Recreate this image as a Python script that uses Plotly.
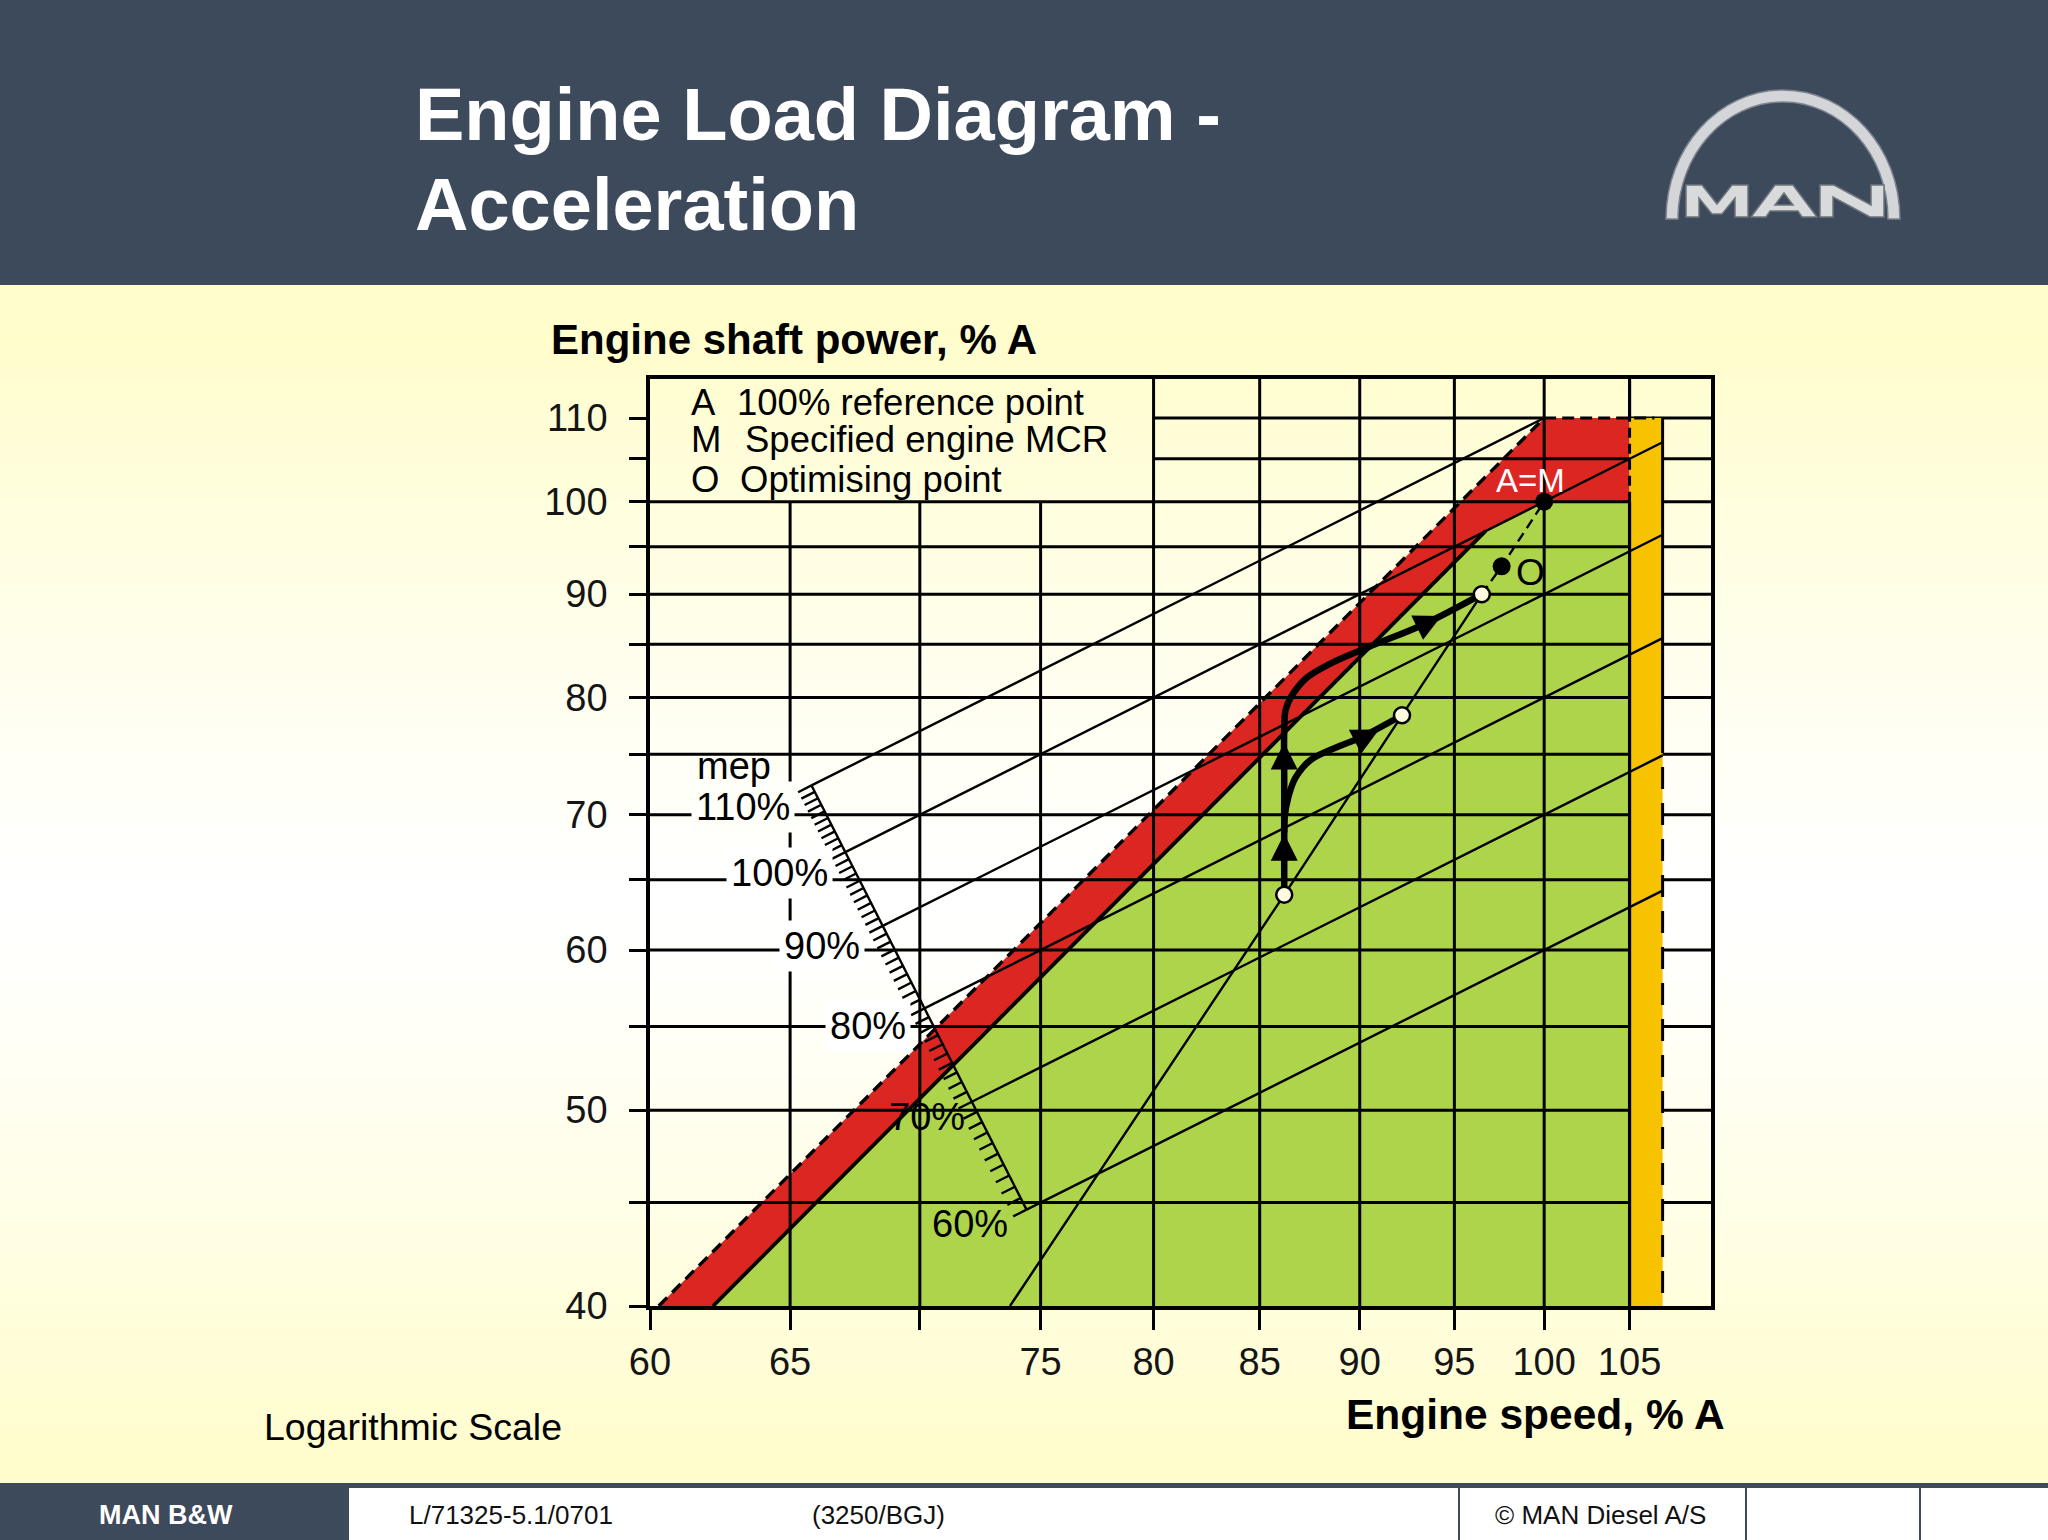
import math
import plotly.graph_objects as go

# ---------------- canvas / plot geometry (pixels) ----------------
W, H = 2048, 1540
L, R, T, B = 650, 1711, 379, 1306

# ---------------- data ----------------
X_RANGE = [60, 110]          # engine speed, % A
Y_RANGE = [40, 115]          # engine shaft power, % A
x_tick_vals = [60, 65, 70, 75, 80, 85, 90, 95, 100, 105]
x_tick_text = ['60', '65', '', '75', '80', '85', '90', '95', '100', '105']
y_tick_vals = [40, 45, 50, 55, 60, 65, 70, 75, 80, 85, 90, 95, 100, 105, 110]
y_tick_text = ['40', '', '50', '', '60', '', '70', '', '80', '', '90', '', '100', '', '110']

grid_speed = [65, 70, 75, 80, 85, 90, 95, 100]
grid_power = [45, 50, 55, 60, 65, 70, 75, 80, 85, 90, 95, 100, 105, 110]

# operating areas
green_speed = [62.2, 96.7, 100, 105, 105]
green_power = [40, 96.7, 100, 100, 40]
red_speed = [60.3, 100, 105, 105, 100, 96.7, 62.2]
red_power = [40, 110, 110, 100, 100, 96.7, 40]
yellow_speed = [105, 107, 107, 105]
yellow_power = [40, 40, 110, 110]

# limit lines
limit_solid_speed = [62.2, 96.7]
limit_solid_power = [40, 96.7]
limit_dash_speed = [60.3, 100]
limit_dash_power = [40, 110]
top_dash_speed = [100, 106.5]
top_dash_power = [110, 110]

# mep scale
mep_scale_speed = [65.8, 74.4]        # ruler ends
mep_scale_mep = [110, 60]             # mep % at ruler ends
mep_levels = [110, 100, 90, 80, 70, 60]
mep_line_end_speed = [100, 107, 107, 107, 107, 107]
mep_tick_levels = list(range(60, 111))

# propeller curve through A=M
prop_speed = [73.7, 86.2, 92.2, 96.5]
prop_power = [40, 63.9, 78.4, 90.0]
prop_dash_speed = [96.5, 97.6, 100]
prop_dash_power = [90.0, 92.9, 100]

# points
open_speed = [86.2, 92.2, 96.5]
open_power = [63.9, 78.4, 90.0]
solid_speed = [97.6, 100]
solid_power = [92.9, 100]

# acceleration paths
accel1_speed = [86.2, 86.2, 86.2, 86.2, 86.27, 86.55, 87.3, 88.45, 90.4, 93.4, 96.5]
accel1_power = [63.9, 68.0, 73.0, 77.0, 78.9, 80.1, 81.8, 83.1, 84.7, 87.0, 90.0]
accel2_speed = [86.2, 86.22, 86.4, 86.75, 87.5, 88.97, 90.0, 92.2]
accel2_power = [68.6, 69.8, 71.4, 73.0, 74.5, 75.7, 76.4, 78.4]
arrow_speed = [86.2, 86.2, 91.0, 94.3]
arrow_power = [68.5, 76.0, 77.15, 87.8]
arrow_angle = [0, 0, 63, 64]

# ---------------- colours ----------------
HEAD = '#3D4A5B'
GREEN = '#ADD44A'
RED = '#DC2622'
YELLOW = '#F7C200'
FONT = 'Liberation Sans, Arial, sans-serif'


def px(x):
    return (x - L) / (R - L)


def py(y):
    return (B - y) / (B - T)


lx = math.log10
KX = (R - L) / (lx(X_RANGE[1]) - lx(X_RANGE[0]))
KY = (B - T) / (lx(Y_RANGE[1]) - lx(Y_RANGE[0]))

fig = go.Figure()


def line(xs, ys, width, color='black', dash=None, shape='linear'):
    fig.add_trace(go.Scatter(x=xs, y=ys, mode='lines', hoverinfo='skip',
                             line=dict(color=color, width=width, dash=dash, shape=shape)))


def fill(xs, ys, color):
    fig.add_trace(go.Scatter(x=xs, y=ys, mode='lines', fill='toself', fillcolor=color,
                             line=dict(width=0, color=color), hoverinfo='skip'))


# areas
fill(green_speed, green_power, GREEN)
fill(red_speed, red_power, RED)

# grid
gx, gy = [], []
for p in grid_power:
    if p == 110:
        segs = [(80, 100), (105, 110)]
    elif p == 105:
        segs = [(80, 110)]
    else:
        segs = [(60, 110)]
    for a, b in segs:
        gx += [a, b, None]
        gy += [p, p, None]
for s in grid_speed:
    top = 100 if s < 80 else 115
    gx += [s, s, None]
    gy += [40, top, None]
line(gx, gy, 3.0)

# yellow band and its edges
fill(yellow_speed, yellow_power, YELLOW)
line([105, 105, None, 105, 105], [40, 100, None, 110, 115], 3.2)
line([105, 105], [100, 110], 3.0, dash='10px,6px')
line([107, 107], [110, 77], 3.0)
line([107, 107], [77, 40], 3.0, dash='22px,14px')
line(top_dash_speed, top_dash_power, 3.0, dash='12px,6px')

# mep scale
u1, u2 = lx(mep_scale_speed[0]), lx(mep_scale_speed[1])
lm1, lm2 = math.log(mep_scale_mep[0]), math.log(mep_scale_mep[1])


def ruler_point(m):
    t = (lm1 - math.log(m)) / (lm1 - lm2)
    n = 10 ** (u1 + t * (u2 - u1))
    return n, m / 100 * n


mx, my = [], []
for m, ne in zip(mep_levels, mep_line_end_speed):
    n0, p0 = ruler_point(m)
    mx += [n0, ne, None]
    my += [p0, m / 100 * ne, None]
line(mx, my, 2.4)

ra = ruler_point(mep_scale_mep[0])
rb = ruler_point(mep_scale_mep[1])
dxp = KX * (lx(rb[0]) - lx(ra[0]))
dyp = -KY * (lx(rb[1]) - lx(ra[1]))
nrm = math.hypot(dxp, dyp)
dxp, dyp = dxp / nrm, dyp / nrm
tx, ty = [ra[0], rb[0], None], [ra[1], rb[1], None]
for m in mep_tick_levels:
    n0, p0 = ruler_point(m)
    ln_ = 15
    ex, ey = -dyp * ln_, dxp * ln_
    tx += [n0, 10 ** (lx(n0) + ex / KX), None]
    ty += [p0, 10 ** (lx(p0) - ey / KY), None]
line(tx, ty, 2.4)

# propeller curve
line(prop_speed, prop_power, 2.4)
line(prop_dash_speed, prop_dash_power, 2.4, dash='10px,6px')

# limit lines
line(limit_solid_speed, limit_solid_power, 3.8)
line(limit_dash_speed, limit_dash_power, 3.4, dash='12px,7px')

# acceleration paths
line(accel1_speed, accel1_power, 6.5, shape='spline')
line(accel2_speed, accel2_power, 6.5, shape='spline')
fig.add_trace(go.Scatter(x=arrow_speed, y=arrow_power, mode='markers', hoverinfo='skip',
                         marker=dict(symbol='arrow-up', size=27, angle=arrow_angle,
                                     color='black', line=dict(width=0))))

# points
fig.add_trace(go.Scatter(x=open_speed, y=open_power, mode='markers', hoverinfo='skip',
                         marker=dict(symbol='circle', size=16, color='#FFFBE0',
                                     line=dict(color='black', width=2.5))))
fig.add_trace(go.Scatter(x=solid_speed, y=solid_power, mode='markers', hoverinfo='skip',
                         marker=dict(symbol='circle', size=18, color='black')))

# ---------------- annotations ----------------
ann = []


def txt(x, y, text, size, color='black', xanchor='center', yanchor='middle', ref='paper',
        bold=False, bg=None, family=FONT, pad=1):
    d = dict(text=('<b>%s</b>' % text) if bold else text, showarrow=False,
             font=dict(size=size, color=color, family=family),
             xanchor=xanchor, yanchor=yanchor)
    if ref == 'paper':
        d.update(xref='paper', yref='paper', x=px(x), y=py(y))
    else:
        d.update(xref='x', yref='y', x=lx(x), y=lx(y))
    if bg:
        d.update(bgcolor=bg, borderpad=pad)
    ann.append(d)


# title
txt(413, 114, 'Engine Load Diagram -', 74, 'white', xanchor='left', bold=True)
txt(413, 204, 'Acceleration', 74, 'white', xanchor='left', bold=True)
# axis titles
txt(549, 340, 'Engine shaft power, % A', 42, xanchor='left', bold=True)
txt(1727, 1414, 'Engine speed, % A', 42.5, xanchor='right', bold=True)
txt(413, 1427, 'Logarithmic Scale', 37.5)
# legend text
txt(61.36, 112.0, 'A', 36.5, xanchor='left', ref='data')
txt(61.36, 107.3, 'M', 36.5, xanchor='left', ref='data')
txt(61.36, 102.6, 'O', 36.5, xanchor='left', ref='data')
txt(62.98, 112.0, '100% reference point', 36.5, xanchor='left', ref='data')
txt(63.27, 107.3, 'Specified engine MCR', 36.5, xanchor='left', ref='data')
txt(63.09, 102.6, 'Optimising point', 36.5, xanchor='left', ref='data')
# mep labels
txt(65.2, 70.6, '110%', 38, xanchor='right', ref='data', bg='#FFFFFA', pad=4)
txt(64.36, 74.0, 'mep', 38, xanchor='right', ref='data')
txt(66.6, 65.5, '100%', 38, xanchor='right', ref='data', bg='#FFFFFF', pad=4)
txt(67.85, 60.3, '90%', 38, xanchor='right', ref='data', bg='#FFFFFF', pad=4)
txt(69.65, 55.0, '80%', 38, xanchor='right', ref='data', bg='#FFFFFF', pad=4)
txt(71.9, 49.6, '70%', 38, xanchor='right', ref='data')
txt(73.7, 43.9, '60%', 38, xanchor='right', ref='data')
# point labels
txt(99.2, 102.5, 'A=M', 33, 'white', ref='data')
txt(99.25, 92.3, 'O', 37, ref='data')
# footer text
txt(166, 1515, 'MAN B&amp;W', 27, 'white', bold=True)
txt(407, 1515, 'L/71325-5.1/0701', 26, '#111111', xanchor='left')
txt(810, 1515, '(3250/BGJ)', 26, '#111111', xanchor='left')
txt(1493, 1515, '© MAN Diesel A/S', 26, '#111111', xanchor='left')

# ---------------- shapes (background, header, footer, logo) ----------------
shapes = []
yl = (255, 253, 204)
y0 = 284
step = 12
while y0 < 1486:
    yc = y0 + step / 2
    f = min(1.0, abs(yc - 900) / 560.0) ** 1.2
    col = 'rgb(%d,%d,%d)' % tuple(round(255 + (c - 255) * f) for c in yl)
    shapes.append(dict(type='rect', xref='paper', yref='paper', layer='below',
                       x0=px(0), x1=px(W), y0=py(y0), y1=py(min(y0 + step + 1, 1486)),
                       fillcolor=col, line=dict(width=0)))
    y0 += step
shapes.append(dict(type='rect', xref='paper', yref='paper', layer='below',
                   x0=px(0), x1=px(W), y0=py(0), y1=py(285), fillcolor=HEAD, line=dict(width=0)))
# footer
shapes.append(dict(type='rect', xref='paper', yref='paper', layer='below',
                   x0=px(0), x1=px(W), y0=py(1486), y1=py(H), fillcolor='white', line=dict(width=0)))
shapes.append(dict(type='rect', xref='paper', yref='paper', layer='below',
                   x0=px(0), x1=px(349), y0=py(1486), y1=py(H), fillcolor=HEAD, line=dict(width=0)))
shapes.append(dict(type='rect', xref='paper', yref='paper', layer='below',
                   x0=px(0), x1=px(W), y0=py(1483), y1=py(1488), fillcolor=HEAD, line=dict(width=0)))
for sx in (1459, 1746, 1920):
    shapes.append(dict(type='line', xref='paper', yref='paper', layer='below',
                       x0=px(sx), x1=px(sx), y0=py(1486), y1=py(H), line=dict(color=HEAD, width=2)))


def P(p):
    return '%.5f,%.5f' % (px(p[0]), py(p[1]))


# logo arc
cx, cy = 1783, 219
k = 0.5523


def arc_pts(rx, ry):
    return [(cx - rx, cy), (cx - rx, cy - k * ry), (cx - k * rx, cy - ry), (cx, cy - ry),
            (cx + k * rx, cy - ry), (cx + rx, cy - k * ry), (cx + rx, cy)]


o = arc_pts(117, 129)
i = arc_pts(105, 117)[::-1]
path = ('M' + P(o[0]) + ' C' + P(o[1]) + ' ' + P(o[2]) + ' ' + P(o[3]) +
        ' C' + P(o[4]) + ' ' + P(o[5]) + ' ' + P(o[6]) +
        ' L' + P(i[0]) + ' C' + P(i[1]) + ' ' + P(i[2]) + ' ' + P(i[3]) +
        ' C' + P(i[4]) + ' ' + P(i[5]) + ' ' + P(i[6]) + ' Z')
shapes.append(dict(type='path', xref='paper', yref='paper', path=path, layer='above',
                   fillcolor='#D4D5D8', line=dict(color='#7D838C', width=1.5)))

# logo letters drawn as extended outlines (pixel offsets from each glyph's top-left)
glyphs = [
    (1686, 185, [(0, 32), (0, 0), (16, 0), (31, 19), (46, 0), (62, 0), (62, 32), (49, 32),
                 (49, 13), (36, 29), (26, 29), (13, 13), (13, 32)], '#D9DADC'),
    (1751, 185, [(0, 32), (24, 0), (42, 0), (66, 32), (51, 32), (47, 26), (19, 26), (15, 32)],
     '#D9DADC'),
    (1751, 185, [(24, 20), (42, 20), (33, 8)], HEAD),
    (1820, 185, [(0, 32), (0, 0), (14, 0), (51, 20), (51, 0), (64, 0), (64, 32), (50, 32),
                 (13, 12), (13, 32)], '#D9DADC'),
]
for gx0, gy0, pts, colr in glyphs:
    pth = 'M' + ' L'.join(P((gx0 + a, gy0 + b)) for a, b in pts) + ' Z'
    shapes.append(dict(type='path', xref='paper', yref='paper', path=pth, layer='above',
                       fillcolor=colr, line=dict(color='#6E747C', width=1.5)))

# ---------------- layout ----------------
axis_common = dict(type='log', showgrid=False, zeroline=False, showline=True, mirror=True,
                   linecolor='black', linewidth=3.6, ticks='outside', tickcolor='black',
                   tickwidth=3.0, tickfont=dict(family=FONT, size=38, color='#151515'),
                   layer='above traces', fixedrange=True)
fig.update_layout(
    width=W, height=H, autosize=False,
    margin=dict(l=L, r=W - R, t=T, b=H - B, pad=0),
    paper_bgcolor='white', plot_bgcolor='rgba(0,0,0,0)',
    showlegend=False,
    xaxis=dict(axis_common, range=[lx(X_RANGE[0]), lx(X_RANGE[1])],
               tickvals=x_tick_vals, ticktext=x_tick_text, ticklen=20, ticklabelstandoff=0),
    yaxis=dict(axis_common, range=[lx(Y_RANGE[0]), lx(Y_RANGE[1])],
               tickvals=y_tick_vals, ticktext=y_tick_text, ticklen=17, ticklabelstandoff=14),
    annotations=ann,
    shapes=shapes,
)

fig.write_html('out.html', config={'displayModeBar': False},
               post_script="document.body.style.margin='0';document.body.style.padding='0';")
